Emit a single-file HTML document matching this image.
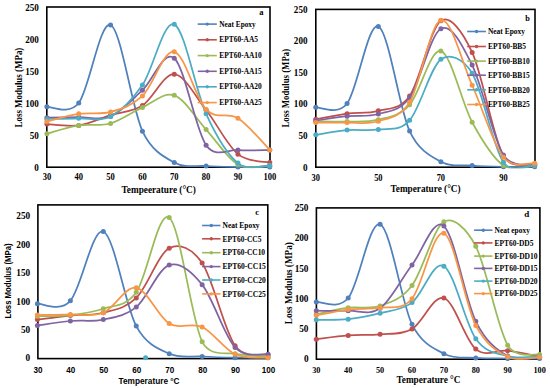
<!DOCTYPE html>
<html><head><meta charset="utf-8"><title>Loss Modulus charts</title>
<style>
html,body{margin:0;padding:0;background:#fff;}
body{width:550px;height:388px;overflow:hidden;}
svg{display:block;}
path{fill:none;stroke-width:1.75;stroke-linejoin:round;stroke-linecap:round;}
.bx{fill:none;stroke:#000;stroke-width:1.6;}
text{font-weight:bold;fill:#000;}
</style></head>
<body>
<svg width="550" height="388" viewBox="0 0 550 388">
<rect width="550" height="388" fill="#fff"/>
<clipPath id="cpa"><rect x="43.8" y="4" width="229.2" height="164.2"/></clipPath>
<rect class="bx" x="46.8" y="7" width="223.2" height="160.2"/>
<path clip-path="url(#cpa)" d="M46.9,106.84 C51.82,106.24 68.89,115.66 78.74,103 C89.35,89.36 99.97,20.28 110.58,24.97 C121.19,29.66 131.81,108.22 142.42,131.14 C151.81,151.41 164.87,157.34 174.26,162.48 C184.87,168.29 195.49,165.25 206.1,166 C216.71,166.75 227.33,166.8 237.94,166.96 C248.55,167.12 264.47,166.96 269.78,166.96" stroke="#4F81BD"/>
<g fill="#4F81BD"><circle cx="46.9" cy="106.84" r="2.5"/><circle cx="78.74" cy="103" r="2.5"/><circle cx="110.58" cy="24.97" r="2.5"/><circle cx="142.42" cy="131.14" r="2.5"/><circle cx="174.26" cy="162.48" r="2.5"/><circle cx="206.1" cy="166" r="2.5"/><circle cx="237.94" cy="166.96" r="2.5"/><circle cx="269.78" cy="166.96" r="2.5"/></g>
<path clip-path="url(#cpa)" d="M46.9,124.11 C52.21,124.32 68.13,126.88 78.74,125.39 C89.35,123.89 99.97,118.46 110.58,115.15 C121.19,111.85 131.81,112.38 142.42,105.56 C153.03,98.74 163.65,73.47 174.26,74.22 C184.87,74.96 195.49,96.71 206.1,110.04 C216.71,123.36 227.33,145.43 237.94,154.17 C248.55,162.91 264.47,161.1 269.78,162.48" stroke="#C0504D"/>
<g fill="#C0504D"><circle cx="46.9" cy="124.11" r="2.5"/><circle cx="78.74" cy="125.39" r="2.5"/><circle cx="110.58" cy="115.15" r="2.5"/><circle cx="142.42" cy="105.56" r="2.5"/><circle cx="174.26" cy="74.22" r="2.5"/><circle cx="206.1" cy="110.04" r="2.5"/><circle cx="237.94" cy="154.17" r="2.5"/><circle cx="269.78" cy="162.48" r="2.5"/></g>
<path clip-path="url(#cpa)" d="M46.9,133.7 C52.21,132.32 68.13,127.09 78.74,125.39 C89.35,123.68 99.97,126.45 110.58,123.47 C121.19,120.48 131.81,112.17 142.42,107.48 C153.03,102.79 163.65,91.65 174.26,95.33 C184.87,99 195.49,118.03 206.1,129.54 C216.71,141.06 227.33,158.38 237.94,164.4 C248.55,170.42 264.47,165.47 269.78,165.68" stroke="#9BBB59"/>
<g fill="#9BBB59"><circle cx="46.9" cy="133.7" r="2.5"/><circle cx="78.74" cy="125.39" r="2.5"/><circle cx="110.58" cy="123.47" r="2.5"/><circle cx="142.42" cy="107.48" r="2.5"/><circle cx="174.26" cy="95.33" r="2.5"/><circle cx="206.1" cy="129.54" r="2.5"/><circle cx="237.94" cy="164.4" r="2.5"/><circle cx="269.78" cy="165.68" r="2.5"/></g>
<path clip-path="url(#cpa)" d="M46.9,117.71 C52.21,117.6 68.13,117.28 78.74,117.07 C89.35,116.86 99.97,120.91 110.58,116.43 C121.19,111.95 131.81,99.91 142.42,90.21 C153.03,80.51 163.65,49.06 174.26,58.23 C184.87,67.4 195.49,129.92 206.1,145.21 C215.28,158.44 228.76,149.32 237.94,150.01 C248.55,150.81 264.47,150.01 269.78,150.01" stroke="#8064A2"/>
<g fill="#8064A2"><circle cx="46.9" cy="117.71" r="2.5"/><circle cx="78.74" cy="117.07" r="2.5"/><circle cx="110.58" cy="116.43" r="2.5"/><circle cx="142.42" cy="90.21" r="2.5"/><circle cx="174.26" cy="58.23" r="2.5"/><circle cx="206.1" cy="145.21" r="2.5"/><circle cx="237.94" cy="150.01" r="2.5"/><circle cx="269.78" cy="150.01" r="2.5"/></g>
<path clip-path="url(#cpa)" d="M46.9,118.99 C52.21,118.88 68.13,118.78 78.74,118.35 C89.35,117.92 99.97,121.98 110.58,116.43 C121.19,110.89 131.81,100.44 142.42,85.09 C153.03,69.74 163.65,19.53 174.26,24.33 C184.87,29.13 195.49,90.74 206.1,113.87 C216.71,137.01 227.33,154.53 237.94,163.12 C248.55,171.71 264.47,165.04 269.78,165.43" stroke="#4BACC6"/>
<g fill="#4BACC6"><circle cx="46.9" cy="118.99" r="2.5"/><circle cx="78.74" cy="118.35" r="2.5"/><circle cx="110.58" cy="116.43" r="2.5"/><circle cx="142.42" cy="85.09" r="2.5"/><circle cx="174.26" cy="24.33" r="2.5"/><circle cx="206.1" cy="113.87" r="2.5"/><circle cx="237.94" cy="163.12" r="2.5"/><circle cx="269.78" cy="165.43" r="2.5"/></g>
<path clip-path="url(#cpa)" d="M46.9,121.55 C52.21,120.27 68.13,115.47 78.74,113.87 C89.35,112.27 99.97,114.94 110.58,111.95 C121.19,108.97 131.81,105.99 142.42,95.96 C153.03,85.94 163.65,49.59 174.26,51.83 C184.87,54.07 195.49,98.31 206.1,109.4 C216.71,120.48 227.33,111.6 237.94,118.35 C248.55,125.1 264.47,144.63 269.78,149.88" stroke="#F79646"/>
<g fill="#F79646"><circle cx="46.9" cy="121.55" r="2.5"/><circle cx="78.74" cy="113.87" r="2.5"/><circle cx="110.58" cy="111.95" r="2.5"/><circle cx="142.42" cy="95.96" r="2.5"/><circle cx="174.26" cy="51.83" r="2.5"/><circle cx="206.1" cy="109.4" r="2.5"/><circle cx="237.94" cy="118.35" r="2.5"/><circle cx="269.78" cy="149.88" r="2.5"/></g>
<text x="46.9" y="180.3" font-family='"Liberation Serif", serif' font-size="9.48" text-anchor="middle" textLength="8.53" lengthAdjust="spacingAndGlyphs">30</text>
<text x="78.74" y="180.3" font-family='"Liberation Serif", serif' font-size="9.48" text-anchor="middle" textLength="8.53" lengthAdjust="spacingAndGlyphs">40</text>
<text x="110.58" y="180.3" font-family='"Liberation Serif", serif' font-size="9.48" text-anchor="middle" textLength="8.53" lengthAdjust="spacingAndGlyphs">50</text>
<text x="142.42" y="180.3" font-family='"Liberation Serif", serif' font-size="9.48" text-anchor="middle" textLength="8.53" lengthAdjust="spacingAndGlyphs">60</text>
<text x="174.26" y="180.3" font-family='"Liberation Serif", serif' font-size="9.48" text-anchor="middle" textLength="8.53" lengthAdjust="spacingAndGlyphs">70</text>
<text x="206.1" y="180.3" font-family='"Liberation Serif", serif' font-size="9.48" text-anchor="middle" textLength="8.53" lengthAdjust="spacingAndGlyphs">80</text>
<text x="237.94" y="180.3" font-family='"Liberation Serif", serif' font-size="9.48" text-anchor="middle" textLength="8.53" lengthAdjust="spacingAndGlyphs">90</text>
<text x="269.78" y="180.3" font-family='"Liberation Serif", serif' font-size="9.48" text-anchor="middle" textLength="12.8" lengthAdjust="spacingAndGlyphs">100</text>
<text x="38.9" y="170.8" font-family='"Liberation Serif", serif' font-size="9.48" text-anchor="end" textLength="4.55" lengthAdjust="spacingAndGlyphs">0</text>
<text x="38.9" y="138.82" font-family='"Liberation Serif", serif' font-size="9.48" text-anchor="end" textLength="9.1" lengthAdjust="spacingAndGlyphs">50</text>
<text x="38.9" y="106.84" font-family='"Liberation Serif", serif' font-size="9.48" text-anchor="end" textLength="13.65" lengthAdjust="spacingAndGlyphs">100</text>
<text x="38.9" y="74.86" font-family='"Liberation Serif", serif' font-size="9.48" text-anchor="end" textLength="13.65" lengthAdjust="spacingAndGlyphs">150</text>
<text x="38.9" y="42.88" font-family='"Liberation Serif", serif' font-size="9.48" text-anchor="end" textLength="13.65" lengthAdjust="spacingAndGlyphs">200</text>
<text x="38.9" y="10.9" font-family='"Liberation Serif", serif' font-size="9.48" text-anchor="end" textLength="13.65" lengthAdjust="spacingAndGlyphs">250</text>
<g transform="translate(21.7,87.6) rotate(-90)"><text x="0" y="0" font-family='"Liberation Serif", serif' font-size="9.77" text-anchor="middle" textLength="79.8" lengthAdjust="spacingAndGlyphs">Loss Modulus (MPa)</text></g>
<text x="121.5" y="192.8" font-family='"Liberation Serif", serif' font-size="11.15" textLength="74.4" lengthAdjust="spacingAndGlyphs">Tempeerature (°C)</text>
<text x="261.25" y="14.9" font-family='"Liberation Serif", serif' font-size="8.5" text-anchor="middle">a</text>
<line x1="197.7" y1="24.1" x2="216.8" y2="24.1" stroke="#4F81BD" stroke-width="1.6"/>
<circle cx="207.25" cy="24.1" r="1.7" fill="#4F81BD"/>
<text x="219.3" y="26.5" font-family='"Liberation Serif", serif' font-size="8.4" textLength="36.4" lengthAdjust="spacingAndGlyphs">Neat Epoxy</text>
<line x1="197.7" y1="39.8" x2="216.8" y2="39.8" stroke="#C0504D" stroke-width="1.6"/>
<circle cx="207.25" cy="39.8" r="1.7" fill="#C0504D"/>
<text x="219.3" y="42.2" font-family='"Liberation Serif", serif' font-size="8.4" textLength="38.7" lengthAdjust="spacingAndGlyphs">EPT60-AA5</text>
<line x1="197.7" y1="55.6" x2="216.8" y2="55.6" stroke="#9BBB59" stroke-width="1.6"/>
<circle cx="207.25" cy="55.6" r="1.7" fill="#9BBB59"/>
<text x="219.3" y="58" font-family='"Liberation Serif", serif' font-size="8.4" textLength="42.5" lengthAdjust="spacingAndGlyphs">EPT60-AA10</text>
<line x1="197.7" y1="71.3" x2="216.8" y2="71.3" stroke="#8064A2" stroke-width="1.6"/>
<circle cx="207.25" cy="71.3" r="1.7" fill="#8064A2"/>
<text x="219.3" y="73.7" font-family='"Liberation Serif", serif' font-size="8.4" textLength="42.5" lengthAdjust="spacingAndGlyphs">EPT60-AA15</text>
<line x1="197.7" y1="86.8" x2="216.8" y2="86.8" stroke="#4BACC6" stroke-width="1.6"/>
<circle cx="207.25" cy="86.8" r="1.7" fill="#4BACC6"/>
<text x="219.3" y="89.2" font-family='"Liberation Serif", serif' font-size="8.4" textLength="42.5" lengthAdjust="spacingAndGlyphs">EPT60-AA20</text>
<line x1="197.7" y1="102.6" x2="216.8" y2="102.6" stroke="#F79646" stroke-width="1.6"/>
<circle cx="207.25" cy="102.6" r="1.7" fill="#F79646"/>
<text x="219.3" y="105" font-family='"Liberation Serif", serif' font-size="8.4" textLength="42.5" lengthAdjust="spacingAndGlyphs">EPT60-AA25</text>
<clipPath id="cpb"><rect x="312.8" y="6.4" width="225.2" height="161.8"/></clipPath>
<rect class="bx" x="315.8" y="9.4" width="219.2" height="157.8"/>
<path clip-path="url(#cpb)" d="M315.8,107.36 C320.62,106.78 337.44,116.03 347.07,103.57 C357.49,90.09 367.92,21.88 378.34,26.46 C388.76,31.05 399.19,108.52 409.61,131.06 C418.8,150.93 431.69,156.65 440.88,161.71 C451.3,167.45 461.73,164.66 472.15,165.5 C482.57,166.35 493,166.56 503.42,166.77 C513.84,166.98 529.48,166.77 534.69,166.77" stroke="#4F81BD"/>
<g fill="#4F81BD"><circle cx="315.8" cy="107.36" r="2.5"/><circle cx="347.07" cy="103.57" r="2.5"/><circle cx="378.34" cy="26.46" r="2.5"/><circle cx="409.61" cy="131.06" r="2.5"/><circle cx="440.88" cy="161.71" r="2.5"/><circle cx="472.15" cy="165.5" r="2.5"/><circle cx="503.42" cy="166.77" r="2.5"/><circle cx="534.69" cy="166.77" r="2.5"/></g>
<path clip-path="url(#cpb)" d="M315.8,119.37 C321.01,118.42 336.65,115.1 347.07,113.68 C357.49,112.26 367.92,113.79 378.34,110.84 C388.21,108.04 399.74,110.2 409.61,95.98 C420.03,80.97 430.46,28.04 440.88,20.78 C450.21,14.27 462.82,32.2 472.15,52.38 C482.57,74.92 493,137.38 503.42,156.02 C511.31,170.13 530.75,163.2 534.69,164.24" stroke="#C0504D"/>
<g fill="#C0504D"><circle cx="315.8" cy="119.37" r="2.5"/><circle cx="347.07" cy="113.68" r="2.5"/><circle cx="378.34" cy="110.84" r="2.5"/><circle cx="409.61" cy="95.98" r="2.5"/><circle cx="440.88" cy="20.78" r="2.5"/><circle cx="472.15" cy="52.38" r="2.5"/><circle cx="503.42" cy="156.02" r="2.5"/><circle cx="534.69" cy="164.24" r="2.5"/></g>
<path clip-path="url(#cpb)" d="M315.8,121.26 C321.01,121.32 336.65,121.84 347.07,121.58 C357.49,121.32 367.92,122.48 378.34,119.68 C388.76,116.89 399.19,116.26 409.61,104.83 C420.03,93.4 430.46,48.22 440.88,51.11 C451.3,54.01 461.73,103.15 472.15,122.21 C482.57,141.28 493,158.29 503.42,165.5 C513.84,172.72 529.48,165.5 534.69,165.5" stroke="#9BBB59"/>
<g fill="#9BBB59"><circle cx="315.8" cy="121.26" r="2.5"/><circle cx="347.07" cy="121.58" r="2.5"/><circle cx="378.34" cy="119.68" r="2.5"/><circle cx="409.61" cy="104.83" r="2.5"/><circle cx="440.88" cy="51.11" r="2.5"/><circle cx="472.15" cy="122.21" r="2.5"/><circle cx="503.42" cy="165.5" r="2.5"/><circle cx="534.69" cy="165.5" r="2.5"/></g>
<path clip-path="url(#cpb)" d="M315.8,120.63 C321.01,119.89 336.65,117.31 347.07,116.21 C357.49,115.1 367.92,117.1 378.34,114 C388.76,110.89 399.19,111.78 409.61,97.56 C420.03,83.34 430.46,34.1 440.88,28.68 C451.3,23.25 461.73,43.95 472.15,65.02 C482.57,86.08 493,138.43 503.42,155.08 C512.12,168.96 530.34,163.51 534.69,164.87" stroke="#8064A2"/>
<g fill="#8064A2"><circle cx="315.8" cy="120.63" r="2.5"/><circle cx="347.07" cy="116.21" r="2.5"/><circle cx="378.34" cy="114" r="2.5"/><circle cx="409.61" cy="97.56" r="2.5"/><circle cx="440.88" cy="28.68" r="2.5"/><circle cx="472.15" cy="65.02" r="2.5"/><circle cx="503.42" cy="155.08" r="2.5"/><circle cx="534.69" cy="164.87" r="2.5"/></g>
<path clip-path="url(#cpb)" d="M315.8,134.85 C321.01,134.06 336.65,131.01 347.07,130.11 C357.49,129.22 367.92,131.11 378.34,129.48 C388.76,127.85 399.19,132.01 409.61,120.32 C420.03,108.62 430.46,67.18 440.88,59.33 C449.76,52.64 463.27,58.61 472.15,73.23 C482.57,90.4 493,147.07 503.42,162.34 C512.26,175.3 530.27,164.51 534.69,164.87" stroke="#4BACC6"/>
<g fill="#4BACC6"><circle cx="315.8" cy="134.85" r="2.5"/><circle cx="347.07" cy="130.11" r="2.5"/><circle cx="378.34" cy="129.48" r="2.5"/><circle cx="409.61" cy="120.32" r="2.5"/><circle cx="440.88" cy="59.33" r="2.5"/><circle cx="472.15" cy="73.23" r="2.5"/><circle cx="503.42" cy="162.34" r="2.5"/><circle cx="534.69" cy="164.87" r="2.5"/></g>
<path clip-path="url(#cpb)" d="M315.8,122.53 C321.01,122.53 336.65,122.74 347.07,122.53 C357.49,122.32 367.92,124.63 378.34,121.26 C387.96,118.15 399.99,117.85 409.61,102.3 C420.03,85.45 430.46,22.99 440.88,20.14 C451.3,17.3 461.73,62.38 472.15,85.24 C482.57,108.1 493,144.28 503.42,157.29 C513.38,169.71 529.71,162.34 534.69,163.29" stroke="#F79646"/>
<g fill="#F79646"><circle cx="315.8" cy="122.53" r="2.5"/><circle cx="347.07" cy="122.53" r="2.5"/><circle cx="378.34" cy="121.26" r="2.5"/><circle cx="409.61" cy="102.3" r="2.5"/><circle cx="440.88" cy="20.14" r="2.5"/><circle cx="472.15" cy="85.24" r="2.5"/><circle cx="503.42" cy="157.29" r="2.5"/><circle cx="534.69" cy="163.29" r="2.5"/></g>
<text x="315.8" y="181.4" font-family='"Liberation Serif", serif' font-size="9.33" text-anchor="middle" textLength="8.4" lengthAdjust="spacingAndGlyphs">30</text>
<text x="378.34" y="181.4" font-family='"Liberation Serif", serif' font-size="9.33" text-anchor="middle" textLength="8.4" lengthAdjust="spacingAndGlyphs">50</text>
<text x="440.88" y="181.4" font-family='"Liberation Serif", serif' font-size="9.33" text-anchor="middle" textLength="8.4" lengthAdjust="spacingAndGlyphs">70</text>
<text x="503.42" y="181.4" font-family='"Liberation Serif", serif' font-size="9.33" text-anchor="middle" textLength="8.4" lengthAdjust="spacingAndGlyphs">90</text>
<text x="307.5" y="170.6" font-family='"Liberation Serif", serif' font-size="9.48" text-anchor="end" textLength="4.55" lengthAdjust="spacingAndGlyphs">0</text>
<text x="307.5" y="139" font-family='"Liberation Serif", serif' font-size="9.48" text-anchor="end" textLength="9.1" lengthAdjust="spacingAndGlyphs">50</text>
<text x="307.5" y="107.4" font-family='"Liberation Serif", serif' font-size="9.48" text-anchor="end" textLength="13.65" lengthAdjust="spacingAndGlyphs">100</text>
<text x="307.5" y="75.8" font-family='"Liberation Serif", serif' font-size="9.48" text-anchor="end" textLength="13.65" lengthAdjust="spacingAndGlyphs">150</text>
<text x="307.5" y="44.2" font-family='"Liberation Serif", serif' font-size="9.48" text-anchor="end" textLength="13.65" lengthAdjust="spacingAndGlyphs">200</text>
<text x="307.5" y="12.6" font-family='"Liberation Serif", serif' font-size="9.48" text-anchor="end" textLength="13.65" lengthAdjust="spacingAndGlyphs">250</text>
<g transform="translate(288.7,88.2) rotate(-90)"><text x="0" y="0" font-family='"Liberation Serif", serif' font-size="9.77" text-anchor="middle" textLength="78.6" lengthAdjust="spacingAndGlyphs">Loss Modulus (MPa)</text></g>
<text x="390.5" y="192" font-family='"Liberation Serif", serif' font-size="10.69" textLength="70.1" lengthAdjust="spacingAndGlyphs">Temperature (°C)</text>
<text x="527.6" y="20.6" font-family='"Liberation Serif", serif' font-size="8.2" text-anchor="middle">b</text>
<line x1="467.2" y1="31.5" x2="485.9" y2="31.5" stroke="#4F81BD" stroke-width="1.6"/>
<circle cx="476.55" cy="31.5" r="1.7" fill="#4F81BD"/>
<text x="487.9" y="34.3" font-family='"Liberation Serif", serif' font-size="8.4" textLength="37.1" lengthAdjust="spacingAndGlyphs">Neat Epoxy</text>
<line x1="467.2" y1="46.5" x2="485.9" y2="46.5" stroke="#C0504D" stroke-width="1.6"/>
<circle cx="476.55" cy="46.5" r="1.7" fill="#C0504D"/>
<text x="487.9" y="49.3" font-family='"Liberation Serif", serif' font-size="8.4" textLength="38.2" lengthAdjust="spacingAndGlyphs">EPT60-BB5</text>
<line x1="467.2" y1="61.1" x2="485.9" y2="61.1" stroke="#9BBB59" stroke-width="1.6"/>
<circle cx="476.55" cy="61.1" r="1.7" fill="#9BBB59"/>
<text x="487.9" y="63.9" font-family='"Liberation Serif", serif' font-size="8.4" textLength="41.9" lengthAdjust="spacingAndGlyphs">EPT60-BB10</text>
<line x1="467.2" y1="75.2" x2="485.9" y2="75.2" stroke="#8064A2" stroke-width="1.6"/>
<circle cx="476.55" cy="75.2" r="1.7" fill="#8064A2"/>
<text x="487.9" y="78" font-family='"Liberation Serif", serif' font-size="8.4" textLength="41.9" lengthAdjust="spacingAndGlyphs">EPT60-BB15</text>
<line x1="467.2" y1="89.8" x2="485.9" y2="89.8" stroke="#4BACC6" stroke-width="1.6"/>
<circle cx="476.55" cy="89.8" r="1.7" fill="#4BACC6"/>
<text x="487.9" y="92.6" font-family='"Liberation Serif", serif' font-size="8.4" textLength="41.9" lengthAdjust="spacingAndGlyphs">EPT60-BB20</text>
<line x1="467.2" y1="104.5" x2="485.9" y2="104.5" stroke="#F79646" stroke-width="1.6"/>
<circle cx="476.55" cy="104.5" r="1.7" fill="#F79646"/>
<text x="487.9" y="107.3" font-family='"Liberation Serif", serif' font-size="8.4" textLength="41.9" lengthAdjust="spacingAndGlyphs">EPT60-BB25</text>
<clipPath id="cpc"><rect x="34.9" y="201.9" width="235.9" height="157.7"/></clipPath>
<rect class="bx" x="37.9" y="204.9" width="229.9" height="153.7"/>
<path clip-path="url(#cpc)" d="M37.4,303.67 C42.89,303.2 59.37,312.85 70.35,300.83 C81.33,288.81 92.32,227.32 103.3,231.54 C114.28,235.75 125.27,305.75 136.25,326.11 C146.45,345.01 159,348.95 169.2,353.66 C180.18,358.72 191.17,355.83 202.15,356.5 C213.13,357.16 224.12,357.44 235.1,357.63 C246.08,357.82 262.56,357.63 268.05,357.63" stroke="#4F81BD"/>
<g fill="#4F81BD"><circle cx="37.4" cy="303.67" r="2.5"/><circle cx="70.35" cy="300.83" r="2.5"/><circle cx="103.3" cy="231.54" r="2.5"/><circle cx="136.25" cy="326.11" r="2.5"/><circle cx="169.2" cy="353.66" r="2.5"/><circle cx="202.15" cy="356.5" r="2.5"/><circle cx="235.1" cy="357.63" r="2.5"/><circle cx="268.05" cy="357.63" r="2.5"/></g>
<path clip-path="url(#cpc)" d="M37.4,319.58 C42.89,318.91 59.37,316.74 70.35,315.6 C81.33,314.46 92.32,315.69 103.3,312.76 C114.28,309.83 125.27,308.74 136.25,297.99 C147.23,287.25 158.22,254.11 169.2,248.29 C179.32,242.93 192.03,248.11 202.15,263.06 C213.13,279.3 224.12,330.42 235.1,345.7 C245.07,359.58 263.06,353.42 268.05,354.79" stroke="#C0504D"/>
<g fill="#C0504D"><circle cx="37.4" cy="319.58" r="2.5"/><circle cx="70.35" cy="315.6" r="2.5"/><circle cx="103.3" cy="312.76" r="2.5"/><circle cx="136.25" cy="297.99" r="2.5"/><circle cx="169.2" cy="248.29" r="2.5"/><circle cx="202.15" cy="263.06" r="2.5"/><circle cx="235.1" cy="345.7" r="2.5"/><circle cx="268.05" cy="354.79" r="2.5"/></g>
<path clip-path="url(#cpc)" d="M37.4,316.17 C42.89,315.98 59.37,316.26 70.35,315.03 C81.33,313.8 92.32,312.57 103.3,308.78 C114.09,305.06 125.46,307.24 136.25,292.31 C147.23,277.12 158.22,209.38 169.2,217.62 C180.18,225.86 191.17,319.06 202.15,341.73 C209.79,357.5 227.46,351.94 235.1,353.66 C246.08,356.12 262.56,356.02 268.05,356.5" stroke="#9BBB59"/>
<g fill="#9BBB59"><circle cx="37.4" cy="316.17" r="2.5"/><circle cx="70.35" cy="315.03" r="2.5"/><circle cx="103.3" cy="308.78" r="2.5"/><circle cx="136.25" cy="292.31" r="2.5"/><circle cx="169.2" cy="217.62" r="2.5"/><circle cx="202.15" cy="341.73" r="2.5"/><circle cx="235.1" cy="353.66" r="2.5"/><circle cx="268.05" cy="356.5" r="2.5"/></g>
<path clip-path="url(#cpc)" d="M37.4,325.54 C42.89,324.78 59.37,321.99 70.35,321 C81.33,320 92.32,321.9 103.3,319.58 C114.28,317.26 125.27,316.17 136.25,307.08 C147.23,297.99 158.22,268.79 169.2,265.05 C180.18,261.31 191.17,270.92 202.15,284.64 C213.13,298.37 224.12,335.81 235.1,347.41 C246.08,359 262.56,353.09 268.05,354.22" stroke="#8064A2"/>
<g fill="#8064A2"><circle cx="37.4" cy="325.54" r="2.5"/><circle cx="70.35" cy="321" r="2.5"/><circle cx="103.3" cy="319.58" r="2.5"/><circle cx="136.25" cy="307.08" r="2.5"/><circle cx="169.2" cy="265.05" r="2.5"/><circle cx="202.15" cy="284.64" r="2.5"/><circle cx="235.1" cy="347.41" r="2.5"/><circle cx="268.05" cy="354.22" r="2.5"/></g>
<path clip-path="url(#cpc)" d="M37.4,315.03 C42.89,314.94 59.37,314.84 70.35,314.46 C81.33,314.09 92.32,317.21 103.3,312.76 C114.28,308.31 125.27,285.97 136.25,287.77 C147.23,289.57 158.22,317.02 169.2,323.55 C180.18,330.08 191.17,321.85 202.15,326.96 C213.13,332.07 224.12,349.11 235.1,354.22 C246.08,359.34 262.56,357.06 268.05,357.63" stroke="#F79646"/>
<g fill="#F79646"><circle cx="37.4" cy="315.03" r="2.5"/><circle cx="70.35" cy="314.46" r="2.5"/><circle cx="103.3" cy="312.76" r="2.5"/><circle cx="136.25" cy="287.77" r="2.5"/><circle cx="169.2" cy="323.55" r="2.5"/><circle cx="202.15" cy="326.96" r="2.5"/><circle cx="235.1" cy="354.22" r="2.5"/><circle cx="268.05" cy="357.63" r="2.5"/></g>
<circle cx="145.61" cy="357.63" r="2.5" fill="#4BACC6"/>
<text x="37.9" y="372.6" font-family='"Liberation Sans", sans-serif' font-size="9.18" text-anchor="middle" textLength="9" lengthAdjust="spacingAndGlyphs">30</text>
<text x="70.85" y="372.6" font-family='"Liberation Sans", sans-serif' font-size="9.18" text-anchor="middle" textLength="9" lengthAdjust="spacingAndGlyphs">40</text>
<text x="103.8" y="372.6" font-family='"Liberation Sans", sans-serif' font-size="9.18" text-anchor="middle" textLength="9" lengthAdjust="spacingAndGlyphs">50</text>
<text x="136.75" y="372.6" font-family='"Liberation Sans", sans-serif' font-size="9.18" text-anchor="middle" textLength="9" lengthAdjust="spacingAndGlyphs">60</text>
<text x="169.7" y="372.6" font-family='"Liberation Sans", sans-serif' font-size="9.18" text-anchor="middle" textLength="9" lengthAdjust="spacingAndGlyphs">70</text>
<text x="202.65" y="372.6" font-family='"Liberation Sans", sans-serif' font-size="9.18" text-anchor="middle" textLength="9" lengthAdjust="spacingAndGlyphs">80</text>
<text x="235.6" y="372.6" font-family='"Liberation Sans", sans-serif' font-size="9.18" text-anchor="middle" textLength="9" lengthAdjust="spacingAndGlyphs">90</text>
<text x="268.55" y="372.6" font-family='"Liberation Sans", sans-serif' font-size="9.18" text-anchor="middle" textLength="13.5" lengthAdjust="spacingAndGlyphs">100</text>
<text x="30.2" y="361.45" font-family='"Liberation Serif", serif' font-size="9.63" text-anchor="end" textLength="4.62" lengthAdjust="spacingAndGlyphs">0</text>
<text x="30.2" y="333.05" font-family='"Liberation Serif", serif' font-size="9.63" text-anchor="end" textLength="9.24" lengthAdjust="spacingAndGlyphs">50</text>
<text x="30.2" y="304.65" font-family='"Liberation Serif", serif' font-size="9.63" text-anchor="end" textLength="13.87" lengthAdjust="spacingAndGlyphs">100</text>
<text x="30.2" y="276.25" font-family='"Liberation Serif", serif' font-size="9.63" text-anchor="end" textLength="13.87" lengthAdjust="spacingAndGlyphs">150</text>
<text x="30.2" y="247.85" font-family='"Liberation Serif", serif' font-size="9.63" text-anchor="end" textLength="13.87" lengthAdjust="spacingAndGlyphs">200</text>
<text x="30.2" y="219.45" font-family='"Liberation Serif", serif' font-size="9.63" text-anchor="end" textLength="13.87" lengthAdjust="spacingAndGlyphs">250</text>
<g transform="translate(10.9,281) rotate(-90)"><text x="0" y="0" font-family='"Liberation Sans", sans-serif' font-size="8.43" text-anchor="middle" textLength="75.2" lengthAdjust="spacingAndGlyphs">Loss Modulus (MPa)</text></g>
<text x="118.5" y="384.2" font-family='"Liberation Sans", sans-serif' font-size="9.01" textLength="61.1" lengthAdjust="spacingAndGlyphs">Temperature °C</text>
<text x="257.1" y="214.9" font-family='"Liberation Serif", serif' font-size="8.7" text-anchor="middle">c</text>
<line x1="202.1" y1="225.5" x2="220.5" y2="225.5" stroke="#4F81BD" stroke-width="1.6"/>
<circle cx="211.3" cy="225.5" r="1.7" fill="#4F81BD"/>
<text x="222.5" y="228.2" font-family='"Liberation Serif", serif' font-size="8.32" textLength="37.1" lengthAdjust="spacingAndGlyphs">Neat Epoxy</text>
<line x1="202.1" y1="238.8" x2="220.5" y2="238.8" stroke="#C0504D" stroke-width="1.6"/>
<circle cx="211.3" cy="238.8" r="1.7" fill="#C0504D"/>
<text x="222.5" y="241.5" font-family='"Liberation Serif", serif' font-size="8.32" textLength="38.9" lengthAdjust="spacingAndGlyphs">EPT60-CC5</text>
<line x1="202.1" y1="252.7" x2="220.5" y2="252.7" stroke="#9BBB59" stroke-width="1.6"/>
<circle cx="211.3" cy="252.7" r="1.7" fill="#9BBB59"/>
<text x="222.5" y="255.4" font-family='"Liberation Serif", serif' font-size="8.32" textLength="42.6" lengthAdjust="spacingAndGlyphs">EPT60-CC10</text>
<line x1="202.1" y1="266.6" x2="220.5" y2="266.6" stroke="#8064A2" stroke-width="1.6"/>
<circle cx="211.3" cy="266.6" r="1.7" fill="#8064A2"/>
<text x="222.5" y="269.3" font-family='"Liberation Serif", serif' font-size="8.32" textLength="43.3" lengthAdjust="spacingAndGlyphs">EPT60-CC15</text>
<line x1="202.1" y1="280" x2="220.5" y2="280" stroke="#4BACC6" stroke-width="1.6"/>
<circle cx="211.3" cy="280" r="1.7" fill="#4BACC6"/>
<text x="222.5" y="282.7" font-family='"Liberation Serif", serif' font-size="8.32" textLength="43.3" lengthAdjust="spacingAndGlyphs">EPT60-CC20</text>
<line x1="202.1" y1="293.9" x2="220.5" y2="293.9" stroke="#F79646" stroke-width="1.6"/>
<circle cx="211.3" cy="293.9" r="1.7" fill="#F79646"/>
<text x="222.5" y="296.6" font-family='"Liberation Serif", serif' font-size="8.32" textLength="43.3" lengthAdjust="spacingAndGlyphs">EPT60-CC25</text>
<clipPath id="cpd"><rect x="313.4" y="204.9" width="229.5" height="155.3"/></clipPath>
<rect class="bx" x="316.4" y="207.9" width="223.5" height="151.3"/>
<path clip-path="url(#cpd)" d="M316.3,301.95 C321.4,301.32 338,310.44 348.2,298.02 C358.83,285.06 369.47,219.84 380.1,224.23 C390.73,228.61 401.37,302.75 412,324.32 C421.58,343.76 434.32,348.62 443.9,353.66 C454.53,359.25 465.17,357.08 475.8,357.89 C486.43,358.7 497.07,358.39 507.7,358.5 C518.33,358.6 534.28,358.5 539.6,358.5" stroke="#4F81BD"/>
<g fill="#4F81BD"><circle cx="316.3" cy="301.95" r="2.5"/><circle cx="348.2" cy="298.02" r="2.5"/><circle cx="380.1" cy="224.23" r="2.5"/><circle cx="412" cy="324.32" r="2.5"/><circle cx="443.9" cy="353.66" r="2.5"/><circle cx="475.8" cy="357.89" r="2.5"/><circle cx="507.7" cy="358.5" r="2.5"/><circle cx="539.6" cy="358.5" r="2.5"/></g>
<path clip-path="url(#cpd)" d="M316.3,339.14 C321.62,338.52 337.57,336.2 348.2,335.39 C358.83,334.59 369.47,335.35 380.1,334.3 C390.73,333.25 401.37,335.15 412,329.1 C422.63,323.05 433.27,294.68 443.9,298.02 C454.53,301.35 465.17,340.35 475.8,349.12 C486.43,357.89 497.07,349.37 507.7,350.63 C518.33,351.89 534.28,355.67 539.6,356.68" stroke="#C0504D"/>
<g fill="#C0504D"><circle cx="316.3" cy="339.14" r="2.5"/><circle cx="348.2" cy="335.39" r="2.5"/><circle cx="380.1" cy="334.3" r="2.5"/><circle cx="412" cy="329.1" r="2.5"/><circle cx="443.9" cy="298.02" r="2.5"/><circle cx="475.8" cy="349.12" r="2.5"/><circle cx="507.7" cy="350.63" r="2.5"/><circle cx="539.6" cy="356.68" r="2.5"/></g>
<path clip-path="url(#cpd)" d="M316.3,314.34 C321.62,313.24 337.57,309.1 348.2,307.69 C358.83,306.28 369.47,309.58 380.1,305.88 C390.73,302.18 401.37,299.51 412,285.5 C422.63,271.48 433.27,228.34 443.9,221.81 C453.14,216.14 466.56,228.44 475.8,246.3 C486.43,266.87 497.07,327.16 507.7,345.19 C516.14,359.5 535.38,353.27 539.6,354.5" stroke="#9BBB59"/>
<g fill="#9BBB59"><circle cx="316.3" cy="314.34" r="2.5"/><circle cx="348.2" cy="307.69" r="2.5"/><circle cx="380.1" cy="305.88" r="2.5"/><circle cx="412" cy="285.5" r="2.5"/><circle cx="443.9" cy="221.81" r="2.5"/><circle cx="475.8" cy="246.3" r="2.5"/><circle cx="507.7" cy="345.19" r="2.5"/><circle cx="539.6" cy="354.5" r="2.5"/></g>
<path clip-path="url(#cpd)" d="M316.3,310.72 C321.62,310.72 337.57,311.12 348.2,310.72 C358.83,310.31 369.47,315.92 380.1,308.3 C390.73,300.68 401.37,278.7 412,264.99 C422.63,251.28 433.27,216.66 443.9,226.04 C454.53,235.43 465.17,299.63 475.8,321.3 C486.19,342.48 497.31,350.21 507.7,356.08 C518.33,362.07 534.28,357.08 539.6,357.29" stroke="#8064A2"/>
<g fill="#8064A2"><circle cx="316.3" cy="310.72" r="2.5"/><circle cx="348.2" cy="310.72" r="2.5"/><circle cx="380.1" cy="308.3" r="2.5"/><circle cx="412" cy="264.99" r="2.5"/><circle cx="443.9" cy="226.04" r="2.5"/><circle cx="475.8" cy="321.3" r="2.5"/><circle cx="507.7" cy="356.08" r="2.5"/><circle cx="539.6" cy="357.29" r="2.5"/></g>
<path clip-path="url(#cpd)" d="M316.3,319.79 C321.62,319.69 337.57,320.29 348.2,319.18 C358.83,318.07 369.47,315.9 380.1,313.14 C390.73,310.37 401.37,310.44 412,302.61 C422.63,294.78 433.27,260.1 443.9,266.14 C454.53,272.18 465.17,323.85 475.8,338.84 C486.29,353.63 497.21,353.14 507.7,356.08 C518.33,359.05 534.28,356.58 539.6,356.68" stroke="#4BACC6"/>
<g fill="#4BACC6"><circle cx="316.3" cy="319.79" r="2.5"/><circle cx="348.2" cy="319.18" r="2.5"/><circle cx="380.1" cy="313.14" r="2.5"/><circle cx="412" cy="302.61" r="2.5"/><circle cx="443.9" cy="266.14" r="2.5"/><circle cx="475.8" cy="338.84" r="2.5"/><circle cx="507.7" cy="356.08" r="2.5"/><circle cx="539.6" cy="356.68" r="2.5"/></g>
<path clip-path="url(#cpd)" d="M316.3,315.31 C321.62,314.34 337.57,310.78 348.2,309.51 C358.83,308.24 369.47,309.49 380.1,307.69 C390.73,305.9 401.37,311.14 412,298.74 C422.63,286.34 433.27,228.86 443.9,233.3 C454.53,237.75 465.17,304.85 475.8,325.41 C486.06,345.25 497.44,351.58 507.7,356.68 C518.33,361.96 534.28,357.03 539.6,357.1" stroke="#F79646"/>
<g fill="#F79646"><circle cx="316.3" cy="315.31" r="2.5"/><circle cx="348.2" cy="309.51" r="2.5"/><circle cx="380.1" cy="307.69" r="2.5"/><circle cx="412" cy="298.74" r="2.5"/><circle cx="443.9" cy="233.3" r="2.5"/><circle cx="475.8" cy="325.41" r="2.5"/><circle cx="507.7" cy="356.68" r="2.5"/><circle cx="539.6" cy="357.1" r="2.5"/></g>
<text x="316.3" y="373.1" font-family='"Liberation Serif", serif' font-size="9.19" text-anchor="middle" textLength="8.27" lengthAdjust="spacingAndGlyphs">30</text>
<text x="348.2" y="373.1" font-family='"Liberation Serif", serif' font-size="9.19" text-anchor="middle" textLength="8.27" lengthAdjust="spacingAndGlyphs">40</text>
<text x="380.1" y="373.1" font-family='"Liberation Serif", serif' font-size="9.19" text-anchor="middle" textLength="8.27" lengthAdjust="spacingAndGlyphs">50</text>
<text x="412" y="373.1" font-family='"Liberation Serif", serif' font-size="9.19" text-anchor="middle" textLength="8.27" lengthAdjust="spacingAndGlyphs">60</text>
<text x="443.9" y="373.1" font-family='"Liberation Serif", serif' font-size="9.19" text-anchor="middle" textLength="8.27" lengthAdjust="spacingAndGlyphs">70</text>
<text x="475.8" y="373.1" font-family='"Liberation Serif", serif' font-size="9.19" text-anchor="middle" textLength="8.27" lengthAdjust="spacingAndGlyphs">80</text>
<text x="507.7" y="373.1" font-family='"Liberation Serif", serif' font-size="9.19" text-anchor="middle" textLength="8.27" lengthAdjust="spacingAndGlyphs">90</text>
<text x="539.6" y="373.1" font-family='"Liberation Serif", serif' font-size="9.19" text-anchor="middle" textLength="12.4" lengthAdjust="spacingAndGlyphs">100</text>
<text x="308.5" y="362.35" font-family='"Liberation Serif", serif' font-size="9.63" text-anchor="end" textLength="4.62" lengthAdjust="spacingAndGlyphs">0</text>
<text x="308.5" y="332.11" font-family='"Liberation Serif", serif' font-size="9.63" text-anchor="end" textLength="9.24" lengthAdjust="spacingAndGlyphs">50</text>
<text x="308.5" y="301.87" font-family='"Liberation Serif", serif' font-size="9.63" text-anchor="end" textLength="13.87" lengthAdjust="spacingAndGlyphs">100</text>
<text x="308.5" y="271.63" font-family='"Liberation Serif", serif' font-size="9.63" text-anchor="end" textLength="13.87" lengthAdjust="spacingAndGlyphs">150</text>
<text x="308.5" y="241.39" font-family='"Liberation Serif", serif' font-size="9.63" text-anchor="end" textLength="13.87" lengthAdjust="spacingAndGlyphs">200</text>
<text x="308.5" y="211.15" font-family='"Liberation Serif", serif' font-size="9.63" text-anchor="end" textLength="13.87" lengthAdjust="spacingAndGlyphs">250</text>
<g transform="translate(291.7,283.2) rotate(-90)"><text x="0" y="0" font-family='"Liberation Serif", serif' font-size="9.77" text-anchor="middle" textLength="81.9" lengthAdjust="spacingAndGlyphs">Loss Modulus (MPa)</text></g>
<text x="396.5" y="383.3" font-family='"Liberation Serif", serif' font-size="9.31" textLength="64" lengthAdjust="spacingAndGlyphs">Temperature °C</text>
<text x="526.75" y="216.9" font-family='"Liberation Serif", serif' font-size="9" text-anchor="middle">d</text>
<line x1="474.1" y1="230.2" x2="492.5" y2="230.2" stroke="#4F81BD" stroke-width="1.6"/>
<circle cx="483.3" cy="230.2" r="1.7" fill="#4F81BD"/>
<text x="494.5" y="233" font-family='"Liberation Serif", serif' font-size="7.71" textLength="35.5" lengthAdjust="spacingAndGlyphs">Neat epoxy</text>
<line x1="474.1" y1="242.9" x2="492.5" y2="242.9" stroke="#C0504D" stroke-width="1.6"/>
<circle cx="483.3" cy="242.9" r="1.7" fill="#C0504D"/>
<text x="494.5" y="245.7" font-family='"Liberation Serif", serif' font-size="7.71" textLength="38.9" lengthAdjust="spacingAndGlyphs">EPT60-DD5</text>
<line x1="474.1" y1="256.1" x2="492.5" y2="256.1" stroke="#9BBB59" stroke-width="1.6"/>
<circle cx="483.3" cy="256.1" r="1.7" fill="#9BBB59"/>
<text x="494.5" y="258.9" font-family='"Liberation Serif", serif' font-size="7.71" textLength="43.1" lengthAdjust="spacingAndGlyphs">EPT60-DD10</text>
<line x1="474.1" y1="268.4" x2="492.5" y2="268.4" stroke="#8064A2" stroke-width="1.6"/>
<circle cx="483.3" cy="268.4" r="1.7" fill="#8064A2"/>
<text x="494.5" y="271.2" font-family='"Liberation Serif", serif' font-size="7.71" textLength="43.1" lengthAdjust="spacingAndGlyphs">EPT60-DD15</text>
<line x1="474.1" y1="281.1" x2="492.5" y2="281.1" stroke="#4BACC6" stroke-width="1.6"/>
<circle cx="483.3" cy="281.1" r="1.7" fill="#4BACC6"/>
<text x="494.5" y="283.9" font-family='"Liberation Serif", serif' font-size="7.71" textLength="43.1" lengthAdjust="spacingAndGlyphs">EPT60-DD20</text>
<line x1="474.1" y1="293.6" x2="492.5" y2="293.6" stroke="#F79646" stroke-width="1.6"/>
<circle cx="483.3" cy="293.6" r="1.7" fill="#F79646"/>
<text x="494.5" y="296.4" font-family='"Liberation Serif", serif' font-size="7.71" textLength="43.1" lengthAdjust="spacingAndGlyphs">EPT60-DD25</text>
</svg>
</body></html>
